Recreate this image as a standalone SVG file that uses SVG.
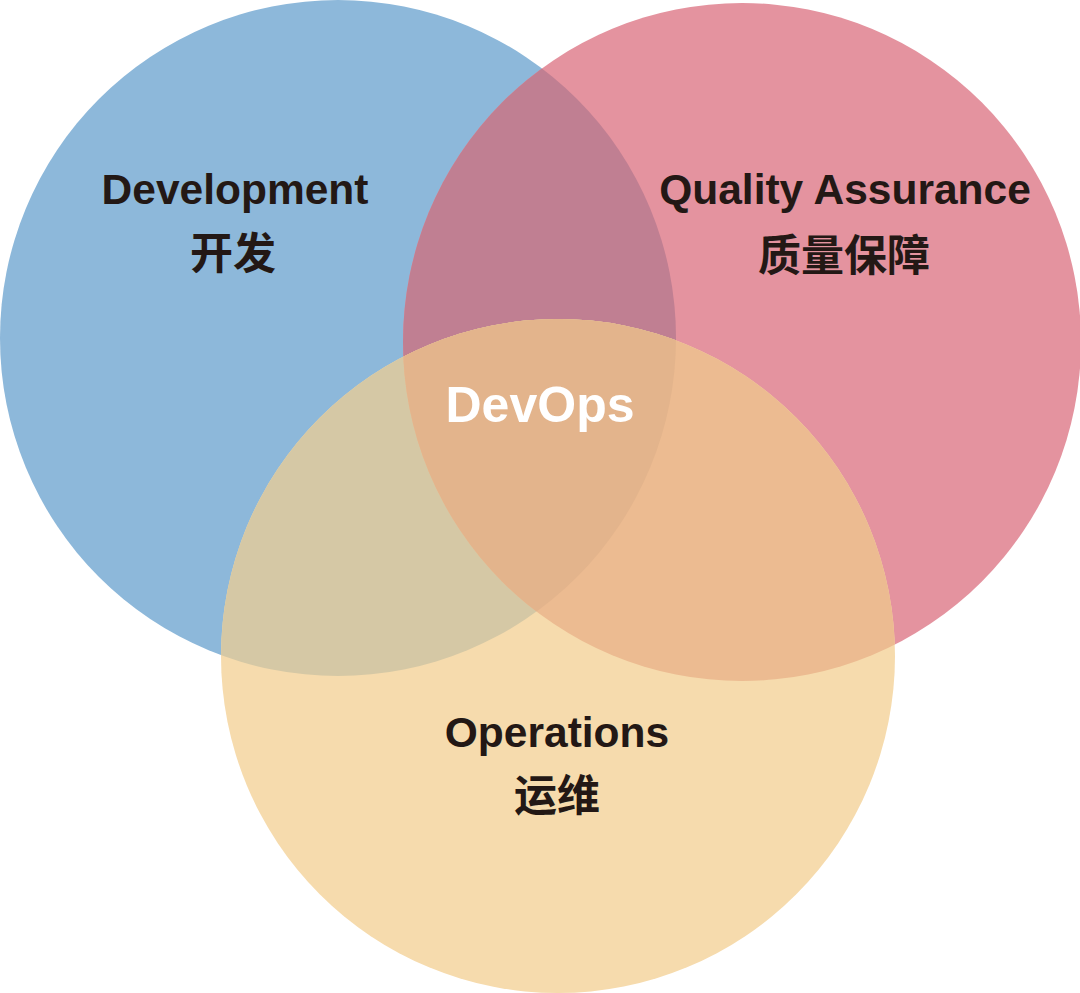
<svg xmlns="http://www.w3.org/2000/svg" width="1080" height="993" viewBox="0 0 1080 993">
<style>
.lbl{font-family:"Liberation Sans",Arial,sans-serif;font-weight:bold;font-size:42.5px;fill:#231815;text-anchor:middle}
.cjk{font-family:"Noto Sans CJK SC","Liberation Sans",sans-serif;font-weight:bold;font-size:43px;fill:#231815;text-anchor:middle}
.dev{font-family:"Liberation Sans",Arial,sans-serif;font-weight:bold;font-size:50px;fill:#ffffff;text-anchor:middle}
</style>
<defs>
<clipPath id="cB"><circle cx="338" cy="338" r="338"/></clipPath>
<clipPath id="cP"><circle cx="742" cy="342" r="339"/></clipPath>
</defs>
<rect width="1080" height="993" fill="#ffffff"/>
<g id="circles">
<circle id="dev-circle" cx="338" cy="338" r="338" fill="#8DB8DA"/>
<circle id="qa-circle" cx="742" cy="342" r="339" fill="#E4939F"/>
<circle id="bp" cx="742" cy="342" r="339" fill="#C07F92" clip-path="url(#cB)"/>
<circle id="ops-circle" cx="558" cy="656" r="337" fill="#F6DBAD"/>
<circle id="by" cx="558" cy="656" r="337" fill="#D5C8A5" clip-path="url(#cB)"/>
<circle id="py" cx="558" cy="656" r="337" fill="#ECBB91" clip-path="url(#cP)"/>
<g clip-path="url(#cB)"><circle id="all" cx="558" cy="656" r="337" fill="#E3B48C" clip-path="url(#cP)"/></g>
</g>
<g id="node-dev">
<text class="lbl" x="235" y="204">Development</text>
<text class="cjk" x="233" y="269">开发</text>
</g>
<g id="node-qa">
<text class="lbl" x="845" y="204">Quality Assurance</text>
<text class="cjk" x="844" y="271">质量保障</text>
</g>
<g id="node-devops">
<text class="dev" x="540" y="422">DevOps</text>
</g>
<g id="node-ops">
<text class="lbl" x="557" y="747">Operations</text>
<text class="cjk" x="557" y="811">运维</text>
</g>
<g id="connectors"/>
</svg>
